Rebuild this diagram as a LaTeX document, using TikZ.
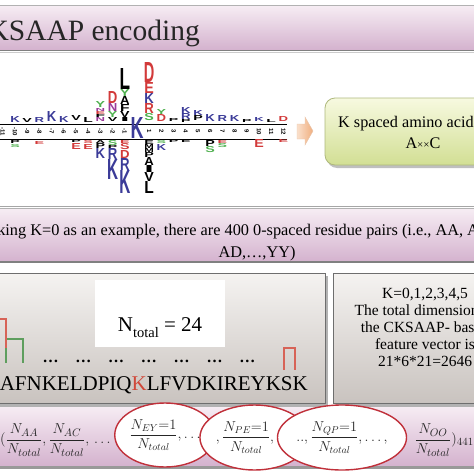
\documentclass[tikz,border=0pt]{standalone}
\usepackage{fontspec}
\setmainfont{Liberation Serif}
\newfontfamily\logofont{Liberation Sans}
\usetikzlibrary{positioning,shapes.geometric}
\definecolor{bandtop}{HTML}{F6ECF3}
\definecolor{bandbot}{HTML}{D4B2CE}
\definecolor{logoblue}{HTML}{3B3B98}
\definecolor{logored}{HTML}{D23A3A}
\definecolor{logogreen}{HTML}{4FB04F}
\definecolor{logopurple}{HTML}{9B3B9B}
\definecolor{boxtop}{HTML}{F5F3F1}
\definecolor{boxbot}{HTML}{C9C3BF}
\definecolor{boxline}{HTML}{6E6E6E}
\definecolor{greentop}{HTML}{F7F9E0}
\definecolor{greenbot}{HTML}{D2DF94}
\definecolor{greenline}{HTML}{AEB87C}
\definecolor{seqred}{HTML}{D0483A}
\definecolor{ovalred}{HTML}{C0303A}
\definecolor{brgreen}{HTML}{5E9E5E}
\definecolor{arrowl}{HTML}{FAE0CC}
\definecolor{arrowr}{HTML}{F0AE7E}

% one letter of the sequence logo: [width] column, top, height, colour, letter
\newcount\lgcount
\newcommand{\logoch}[6][9.5pt]{%
  \global\advance\lgcount by 1
  \node[inner sep=0pt,anchor=north,text=#5] (lg\the\lgcount) at ({137+12.2*(#2)},#3)
    {\resizebox{#1}{#4pt}{\logofont\bfseries #6}};}

\tikzset{
  band/.style={top color=bandtop,bottom color=bandbot,draw=none},
  greybox/.style={draw=boxline,line width=0.8pt,top color=boxtop,bottom color=boxbot},
  oval/.style={ellipse,draw=ovalred,line width=1.4pt,fill=white,inner sep=0pt,
    font=\fontsize{14}{16}\selectfont,text=black!85},
  posnum/.style={rotate=-90,inner sep=0pt,font=\logofont\bfseries\fontsize{6}{7}\selectfont},
  bracket/.style={line width=1.6pt}
}

\begin{document}
\begin{tikzpicture}[x=1pt,y=-1pt]
  \useasboundingbox (0,0) rectangle (474,474);
  \clip (0,0) rectangle (474,474);

  % title band
  \shade[band] (0,6) rectangle (474,50);
  \draw[gray!60] (0,5.5) -- (474,5.5);
  \draw[gray,line width=1pt] (0,50) -- (474,50);
  \node[anchor=base east,inner sep=0pt,font=\fontsize{29.5}{33}\selectfont,text=black!85] (title) at (200,40) {CKSAAP encoding};
  \draw[gray!40] (0,52.5) -- (474,52.5);
  \draw[gray!70] (0,206) -- (474,206);

  % sequence logo
  \draw[line width=0.5pt] (0,124) -- (287,124);
  \draw[line width=0.5pt] (0,139) -- (287,139);
  \foreach \p in {-11,...,-1,1,2,...,12}
    \node[posnum] (pos\p) at ({137+12.2*\p},131.5) {\p};
  \node[inner sep=0pt,anchor=north,text=logoblue] (centerK) at (137,117)
    {\resizebox{13pt}{21pt}{\logofont\bfseries K}};
  % above the axis
  \logoch{-10}{116}{6}{logoblue}{K}
  \logoch{-9}{118}{4}{black}{V}
  \logoch{-8}{117}{5}{logoblue}{R}
  \logoch{-7}{111}{10}{logoblue}{K}
  \logoch{-6}{116}{6}{logoblue}{K}
  \logoch{-5}{115}{5}{black}{V}
  \logoch{-4}{117}{5}{black}{L}
  \logoch{-3}{101}{6}{logogreen}{Y}
  \logoch{-3}{108}{3}{logopurple}{N}
  \logoch{-3}{111}{3}{logored}{E}
  \logoch{-3}{114}{3}{black}{F}
  \logoch{-3}{117}{4}{logopurple}{N}
  \logoch{-2}{91}{12}{logored}{D}
  \logoch{-2}{103}{8}{logopurple}{N}
  \logoch{-2}{111}{6}{logogreen}{Y}
  \logoch{-2}{117}{4}{black}{V}
  \logoch[10.5pt]{-1}{68}{21}{black}{L}
  \logoch{-1}{89}{7}{logogreen}{Y}
  \logoch{-1}{96}{8}{black}{A}
  \logoch{-1}{104}{7}{black}{F}
  \logoch{-1}{111}{6}{black}{V}
  \logoch{-1}{117}{4}{black}{I}
  \logoch[10.5pt]{1}{62}{20}{logored}{D}
  \logoch{1}{82}{11}{logored}{E}
  \logoch{1}{93}{10}{logoblue}{K}
  \logoch{1}{103}{10}{logored}{R}
  \logoch{1}{113}{7}{logogreen}{S}
  \logoch{2}{109}{5}{logogreen}{Y}
  \logoch{2}{114}{7}{logored}{D}
  \logoch{3}{118}{3}{black}{P}
  \logoch{4}{107}{6}{logoblue}{K}
  \logoch{4}{113}{6}{logoblue}{R}
  \logoch{4}{119}{3}{black}{P}
  \logoch{5}{110}{5}{logoblue}{K}
  \logoch{5}{115}{5}{black}{P}
  \logoch{6}{114}{7}{logoblue}{K}
  \logoch{7}{115}{6}{logoblue}{R}
  \logoch{8}{115}{6}{logoblue}{K}
  \logoch{9}{119}{3}{black}{P}
  \logoch{10}{117}{4}{logoblue}{K}
  \logoch{11}{119}{3}{black}{L}
  \logoch{12}{116}{5}{logored}{D}
  % below the axis
  \logoch{-10}{140}{3}{black}{P}
  \logoch{-10}{144}{3}{logogreen}{S}
  \logoch{-8}{141}{3}{logored}{E}
  \logoch{-5}{140}{2}{black}{P}
  \logoch{-5}{143}{6}{logored}{E}
  \logoch{-4}{140}{3}{logored}{S}
  \logoch{-4}{144}{5}{logored}{E}
  \logoch{-3}{140}{3}{black}{A}
  \logoch{-3}{143}{5}{black}{P}
  \logoch{-3}{148}{10}{logoblue}{K}
  \logoch{-2}{140}{5}{logogreen}{S}
  \logoch{-2}{145}{3}{black}{P}
  \logoch{-2}{148}{11}{logoblue}{R}
  \logoch[11pt]{-2}{159}{20}{logoblue}{K}
  \logoch{-1}{140}{3}{logored}{E}
  \logoch{-1}{143}{6}{logored}{S}
  \logoch{-1}{150}{8}{logored}{D}
  \logoch{-1}{158}{12}{logoblue}{R}
  \logoch[11pt]{-1}{170}{23}{logoblue}{K}
  \logoch{1}{140}{4}{black}{E}
  \logoch{1}{144}{4}{black}{M}
  \logoch{1}{148}{4}{black}{M}
  \logoch{1}{152}{5}{black}{P}
  \logoch{1}{157}{8}{black}{A}
  \logoch{1}{165}{7}{black}{I}
  \logoch{1}{172}{9}{black}{V}
  \logoch{1}{181}{12}{black}{L}
  \logoch{2}{140}{3}{logogreen}{S}
  \logoch{2}{144}{6}{logoblue}{K}
  \logoch{3}{140}{2}{black}{P}
  \logoch{4}{140}{2}{black}{E}
  \logoch{6}{140}{6}{black}{P}
  \logoch{6}{146}{6}{logogreen}{S}
  \logoch{7}{140}{3}{logored}{E}
  \logoch{7}{143}{4}{logogreen}{S}
  \logoch{10}{139}{8}{logored}{E}
  \logoch{12}{139}{3}{logored}{E}

  % block arrow and green box
  \shade[left color=arrowl,right color=arrowr,draw=arrowr!90!black!60]
    (297,124) -- (305,124) -- (305,117) -- (313,131) -- (305,145) -- (305,139) -- (297,139) -- cycle;
  \fill[black!25,rounded corners=10pt] (327,101) rectangle (500,168);
  \draw[rounded corners=10pt,draw=greenline,line width=0.8pt,top color=greentop,bottom color=greenbot] (325,98) rectangle (500,165);
  \node[anchor=base west,inner sep=0pt,font=\fontsize{16.2}{18}\selectfont] (kspace) at (338,127) {K spaced amino acid};
  \node[anchor=base,inner sep=0pt,font=\fontsize{16.2}{18}\selectfont] (axxc) at (423,148) {A{\fontsize{11}{12}\selectfont ××}C};

  % second band
  \shade[band] (0,209) rectangle (474,262);
  \draw[gray!60] (0,208.5) -- (474,208.5);
  \draw[gray,line width=1.2pt] (0,262) -- (474,262);
  \node[anchor=base west,inner sep=0pt,font=\fontsize{16.3}{18}\selectfont] (kzero) at (-19,235)
    {Taking K=0 as an example, there are 400 0-spaced residue pairs (i.e., AA, AC,};
  \node[anchor=base,inner sep=0pt,font=\fontsize{16.3}{18}\selectfont] (kzerob) at (257,257) {AD,…,YY)};

  % left grey box
  \fill[black!30] (-3,276) rectangle (328,406);
  \draw[greybox] (-5,273) rectangle (325,403);
  \fill[white] (95,280) rectangle (225,347);
  \node[anchor=base,inner sep=0pt,font=\fontsize{21}{24}\selectfont] (ntotal) at (160,331)
    {N\raisebox{-0.3em}{\fontsize{14.5}{16}\selectfont total} = 24};
  \foreach \i in {0,...,6}
    \node[anchor=base,inner sep=0pt,font=\fontsize{16}{16}\selectfont\bfseries] (dot\i) at ({50.5+32.8*\i},362) {…};
  \node[anchor=base east,inner sep=0pt,font=\fontsize{21}{24}\selectfont] (seq) at (308,390)
    {AFNKELDPIQ\textcolor{seqred}{K}LFVDKIREYKSK};
  \draw[bracket,brgreen] (6,363) -- (6,339) -- (23,339) -- (23,363);
  \draw[bracket,seqred!85] (-4,319) -- (6,319) -- (6,348);
  \draw[bracket,seqred!85] (284,370) -- (284,348) -- (295,348) -- (295,370);

  % right grey box
  \fill[black!30] (336,276) rectangle (480,406);
  \draw[greybox] (333,273) rectangle (480,403);
  \node[anchor=north,inner sep=0pt,align=center,font=\fontsize{15.5}{17.2}\selectfont] (kdim) at (425,287.5)
    {K=0,1,2,3,4,5\\The total dimension of\\the CKSAAP- based\\feature vector is\\21*6*21=2646};

  % feature vector band
  \shade[band] (0,407) rectangle (474,466);
  \draw[gray!60] (0,406.5) -- (474,406.5);
  \draw[gray!80,line width=2.5pt] (0,467.5) -- (474,467.5);
  \node[anchor=west,inner sep=0pt,font=\fontsize{15.5}{17}\selectfont,text=black!85] (fvA) at (0,440)
    {$\displaystyle(\frac{N_{AA}}{N_{total}},\frac{N_{AC}}{N_{total}},\,\ldots\,,$};
  \node[oval,minimum width=96pt,minimum height=64pt] (ovA) at (165,435)
    {$\displaystyle\frac{N_{EY}{=}1}{N_{total}},\ldots$};
  \node[oval,minimum width=95pt,minimum height=65pt] (ovB) at (254.5,437.5)
    {$\displaystyle,\frac{N_{PE}{=}1}{N_{total}},\ldots$};
  \node[oval,minimum width=101pt,minimum height=65pt] (ovC) at (342,437.5)
    {$\displaystyle..,\frac{N_{QP}{=}1}{N_{total}},\ldots,$};
  \node[anchor=east,inner sep=0pt,font=\fontsize{15.5}{17}\selectfont,text=black!85] (fvB) at (474,440)
    {$\displaystyle\frac{N_{OO}}{N_{total}})_{441}$};
\end{tikzpicture}
\end{document}
